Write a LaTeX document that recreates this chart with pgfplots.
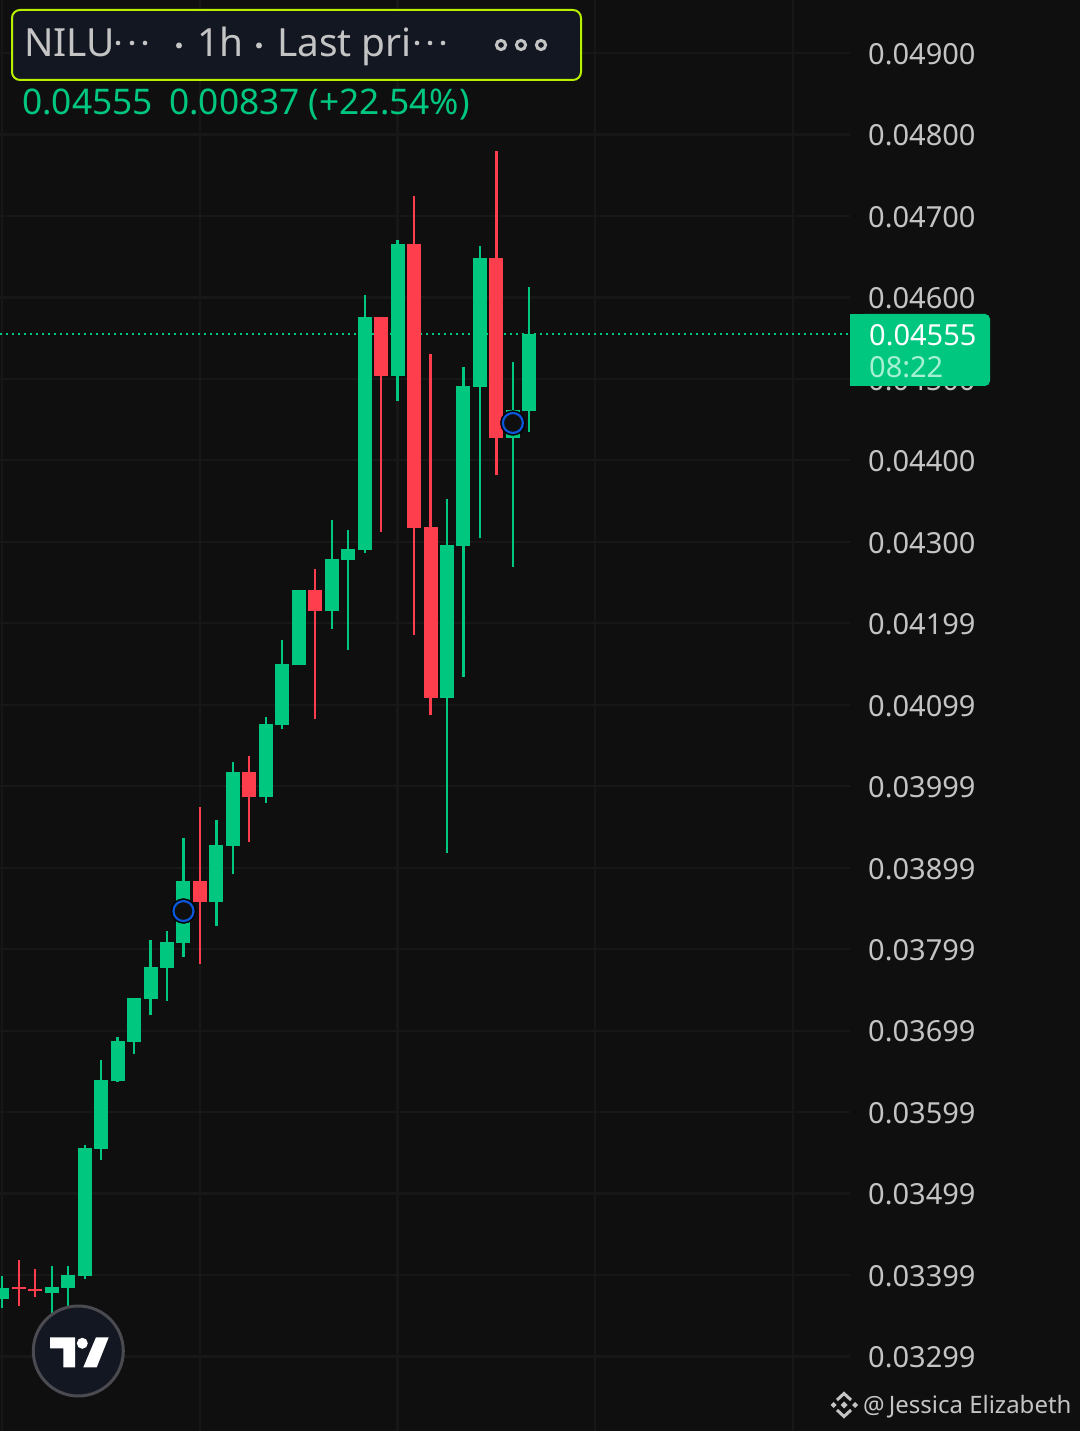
\documentclass[border=0pt]{standalone}
\usepackage{fontspec}
\usepackage{pgfplots}
\usepackage{pgfplotstable}
\pgfplotsset{compat=1.18}
\setmainfont{Noto Sans}
\definecolor{bg}{HTML}{0F0F0F}
\definecolor{gridc}{HTML}{171717}
\definecolor{upc}{HTML}{00C77F}
\definecolor{downc}{HTML}{FF3E4D}
\definecolor{txt}{HTML}{C4C4C4}
\definecolor{panel}{HTML}{131722}
\definecolor{limec}{HTML}{B8F000}
\definecolor{ringc}{HTML}{0B57DC}
\definecolor{timec}{HTML}{A6F0D4}
\definecolor{logoring}{HTML}{4A4A50}

% candles rising: index, high, top of body (close), bottom of body (open), low
\pgfplotstableread{
i high top bot low
0 0.033987 0.033840 0.033705 0.033595
3 0.034110 0.033852 0.033779 0.033533
4 0.034110 0.034000 0.033840 0.033521
5 0.035596 0.035559 0.033987 0.033951
6 0.036639 0.036394 0.035546 0.035411
7 0.036921 0.036872 0.036381 0.036369
8 0.037400 0.037400 0.036860 0.036713
9 0.038112 0.037781 0.037388 0.037191
10 0.038223 0.038088 0.037768 0.037363
11 0.039364 0.038836 0.038075 0.037903
13 0.039585 0.039278 0.038579 0.038284
14 0.040297 0.040175 0.039266 0.038922
16 0.040850 0.040764 0.039868 0.039794
17 0.041795 0.041500 0.040752 0.040702
18 0.042409 0.042409 0.041488 0.041488
20 0.043268 0.042789 0.042151 0.041930
21 0.043145 0.042912 0.042777 0.041672
22 0.046030 0.045760 0.042900 0.042863
24 0.046705 0.046656 0.045036 0.044729
27 0.043526 0.042961 0.041083 0.039180
28 0.045146 0.044913 0.042949 0.041341
29 0.046632 0.046484 0.044901 0.043047
31 0.045208 0.044618 0.044275 0.042691
32 0.046128 0.045551 0.044606 0.044348
}\upcandles
% candles falling: index, high, top of body (open), bottom of body (close), low
\pgfplotstableread{
i high top bot low
1 0.034184 0.033852 0.033828 0.033619
2 0.034073 0.033828 0.033803 0.033730
12 0.039745 0.038836 0.038579 0.037818
15 0.040371 0.040175 0.039868 0.039315
19 0.042667 0.042409 0.042151 0.040825
23 0.045760 0.045760 0.045036 0.043121
25 0.047246 0.046656 0.043170 0.041856
26 0.045306 0.043182 0.041083 0.040874
30 0.047798 0.046484 0.044275 0.043820
}\downcandles

\begin{document}
\begin{tikzpicture}[x=1pt,y=1pt]
\useasboundingbox (0,0) rectangle (1080,1431);
\fill[bg] (0,0) rectangle (1080,1431);
\begin{axis}[
  at={(0pt,0pt)}, anchor=south west,
  scale only axis, width=850pt, height=1431pt,
  xmin=-0.14, xmax=51.47,
  ymin=0.032085, ymax=0.049652,
  axis line style={draw=none},
  major tick length=0pt,
  tick style={draw=none},
  scaled y ticks=false,
  xtick={0,12,24,36,48}, xticklabels={},
  ytick={0.033,0.034,0.035,0.036,0.037,0.038,0.039,0.040,0.041,0.042,0.043,0.044,0.045,0.046,0.047,0.048,0.049},
  yticklabels={0.03299,0.03399,0.03499,0.03599,0.03699,0.03799,0.03899,0.03999,0.04099,0.04199,0.04300,0.04400,0.04500,0.04600,0.04700,0.04800,0.04900},
  yticklabel pos=right,
  yticklabel style={anchor=west, inner sep=0pt, xshift=18pt, yshift=-1pt, text=txt,
    font=\fontsize{29}{31}\selectfont},
  grid=major,
  grid style={draw=gridc, line width=2.2pt},
]
\addplot[upc, line width=2.2pt, dash pattern=on 2pt off 4pt] coordinates {(-0.14,0.04555) (51.47,0.04555)};

% wicks
\addplot[draw=none, mark=none, forget plot,
  error bars/.cd, y dir=plus, y explicit, error mark=none,
  error bar style={line width=2.2pt, upc}]
  table[x=i, y=low, y error plus expr=\thisrow{high}-\thisrow{low}] {\upcandles};
\addplot[draw=none, mark=none, forget plot,
  error bars/.cd, y dir=plus, y explicit, error mark=none,
  error bar style={line width=2.2pt, downc}]
  table[x=i, y=low, y error plus expr=\thisrow{high}-\thisrow{low}] {\downcandles};
% bodies
\addplot[draw=none, mark=none, forget plot,
  error bars/.cd, y dir=plus, y explicit, error mark=none,
  error bar style={line width=14pt, upc}]
  table[x=i, y=bot, y error plus expr=\thisrow{top}-\thisrow{bot}] {\upcandles};
\addplot[draw=none, mark=none, forget plot,
  error bars/.cd, y dir=plus, y explicit, error mark=none,
  error bar style={line width=14pt, downc}]
  table[x=i, y=bot, y error plus expr=\thisrow{top}-\thisrow{bot}] {\downcandles};
% signal markers
\addplot[only marks, mark=*, mark size=12.5pt, mark options={draw=none, fill=black!85!bg}]
  coordinates {(11,0.038468) (31,0.044459)};
\addplot[only marks, mark=*, mark size=10pt, mark options={draw=ringc, fill=bg, line width=2.2pt}]
  coordinates {(11,0.038468) (31,0.044459)};
\end{axis}

\begin{scope}[x=1pt,y=-1pt,yshift=1431pt]
  % header
  \draw[limec, line width=2pt, fill=panel, rounded corners=8pt] (12,10) rectangle (581,80);
  \node[anchor=base west, inner sep=0pt, text=txt] at (24,57) {\fontsize{38.8}{40}\selectfont NILU};
  \foreach \x in {118,132,145,417,430,443} \fill[txt] (\x,43) circle (2.3);
  \foreach \x in {179,259} \fill[txt] (\x,45.5) circle (3);
  \node[anchor=base west, inner sep=0pt, text=txt] at (197,57) {\fontsize{38.8}{40}\selectfont 1h};
  \node[anchor=base west, inner sep=0pt, text=txt] at (277,57) {\fontsize{38.8}{40}\selectfont Last pri};
  \foreach \x in {501,521,541} \draw[txt, line width=3pt] (\x,45) circle (4.6);
  \node[anchor=base west, inner sep=0pt, text=upc] at (22,115) {\fontsize{35.3}{37}\selectfont 0.04555};
  \node[anchor=base west, inner sep=0pt, text=upc] at (169,115) {\fontsize{35.3}{37}\selectfont 0.00837 (+22.54\%)};
  % last price label
  \fill[upc, rounded corners=5pt] (860,314) rectangle (990,386);
  \fill[upc] (850,314) rectangle (870,386);
  \node[anchor=base west, inner sep=0pt, text=white] at (869,346) {\fontsize{29}{31}\selectfont 0.04555};
  \node[anchor=base west, inner sep=0pt, text=timec] at (869,378) {\fontsize{29}{31}\selectfont 08:22};
  % logo
  \draw[logoring, line width=3pt, fill=panel] (78.3,1351) circle (45);
  \fill[white] (50,1337.3) -- (75,1337.3) -- (75,1367.3) -- (63.3,1367.3) -- (63.3,1348.3) -- (50,1348.3) -- cycle;
  \fill[white] (82.3,1343.3) circle (5.5);
  \fill[white] (96,1337.3) -- (108.7,1337.3) -- (96.7,1367.3) -- (83.3,1367.3) -- cycle;
  % watermark
  \fill[txt] (833.5,1402) -- (836.5,1405) -- (833.5,1408) -- (830.5,1405) -- cycle;
  \fill[txt] (855,1402) -- (858,1405) -- (855,1408) -- (852,1405) -- cycle;
  \fill[txt] (844,1401.5) -- (847.5,1405) -- (844,1408.5) -- (840.5,1405) -- cycle;
  \draw[txt, line width=3pt] (837,1400) -- (844,1393.5) -- (851,1400);
  \draw[txt, line width=3pt] (837,1410) -- (844,1416.5) -- (851,1410);
  \node[anchor=base west, inner sep=0pt, text=txt] at (863,1414) {\fontsize{24}{26}\selectfont @\,Jessica Elizabeth};
\end{scope}
\end{tikzpicture}
\end{document}
